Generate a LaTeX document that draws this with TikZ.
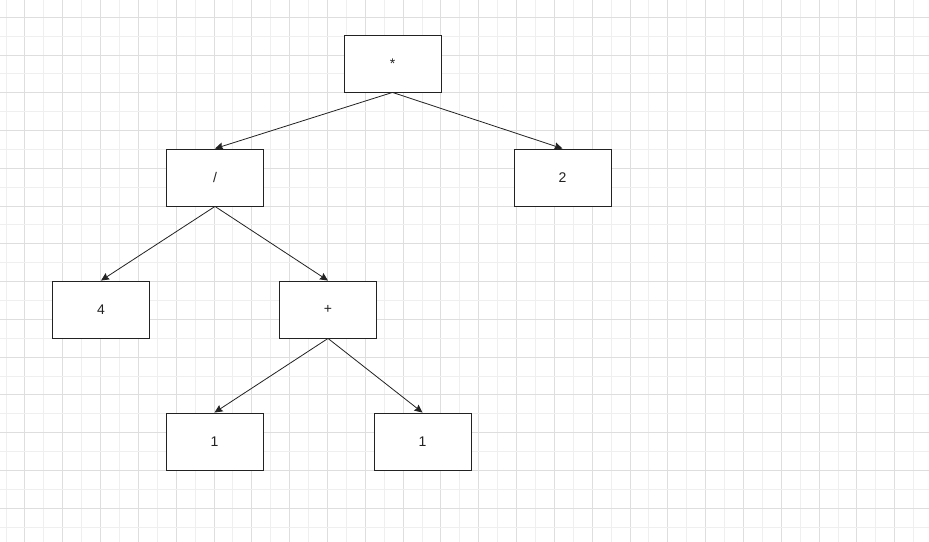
\documentclass[tikz,border=0pt]{standalone}
\usepackage{fontspec}
\setmainfont{Liberation Sans}
\usetikzlibrary{arrows.meta}
\definecolor{gridlight}{HTML}{EFEFEF}
\definecolor{griddark}{HTML}{DEDEDE}
\definecolor{ink}{HTML}{222222}
\tikzset{
  treebox/.style={draw=ink, line width=0.65pt, fill=white, minimum width=72.75pt, minimum height=42.75pt, inner sep=0pt, text=ink, font=\fontsize{10.5}{12}\selectfont},
  treeedge/.style={draw=ink, line width=0.6pt, -{Stealth[length=6pt,width=5.5pt,inset=0.8pt]}}
}
\begin{document}
\begin{tikzpicture}[x=0.75pt,y=-0.75pt]
\useasboundingbox (0,0) rectangle (929,542);
\fill[white] (0,0) rectangle (929,542);
% grid
\foreach \k in {0,...,48}{
  \pgfmathsetmacro{\gx}{6.0+18.91*\k}
  \pgfmathtruncatemacro{\odd}{mod(\k,2)}
  \ifnum\odd=1
    \draw[griddark, line width=0.75pt] (\gx,0) -- (\gx,542);
  \else
    \draw[gridlight, line width=0.75pt] (\gx,0) -- (\gx,542);
  \fi
}
\foreach \k in {0,...,27}{
  \pgfmathsetmacro{\gy}{17.3+18.88*\k}
  \pgfmathtruncatemacro{\odd}{mod(\k,2)}
  \ifnum\odd=0
    \draw[griddark, line width=0.75pt] (0,\gy) -- (929,\gy);
  \else
    \draw[gridlight, line width=0.75pt] (0,\gy) -- (929,\gy);
  \fi
}
% nodes
\node[treebox] (mul) at (392.5,63.5) {*};
\node[treebox] (div) at (215,177.5) {/};
\node[treebox] (two) at (562.5,177.5) {2};
\node[treebox] (four) at (101,309.5) {4};
\node[treebox] (plus) at (328,309.5) {+};
\node[treebox] (oneA) at (214.5,441.5) {1};
\node[treebox] (oneB) at (422.5,441.5) {1};
% edges
\draw[treeedge] (mul.south) -- (div.north);
\draw[treeedge] (mul.south) -- (two.north);
\draw[treeedge] (div.south) -- (four.north);
\draw[treeedge] (div.south) -- (plus.north);
\draw[treeedge] (plus.south) -- (oneA.north);
\draw[treeedge] (plus.south) -- (oneB.north);
\end{tikzpicture}
\end{document}
